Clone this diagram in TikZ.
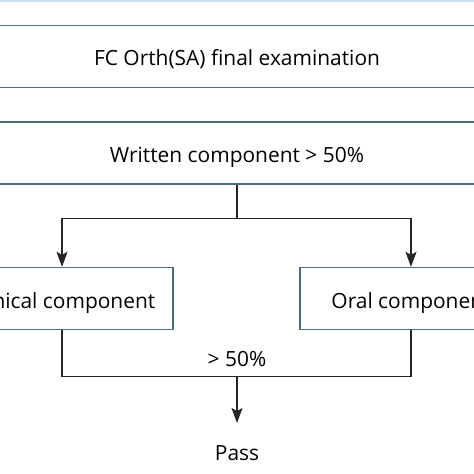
\documentclass[tikz,border=0pt]{standalone}
\usepackage{fontspec}
\setmainfont{Open Sans}
\usetikzlibrary{arrows.meta}

\definecolor{boxline}{HTML}{4F6E7A}
\definecolor{topstrip}{HTML}{C8E4F6}

\begin{document}
\begin{tikzpicture}[x=1bp, y=-1bp,
    stage/.style={draw=boxline, line width=1.3bp, fill=white, inner sep=0pt,
        minimum height=62bp, text height=19bp, text depth=0bp,
        font=\fontsize{21}{25}\selectfont},
    plain/.style={font=\fontsize{21}{25}\selectfont, anchor=base, inner sep=0pt},
    link/.style={draw=black!85, line width=1.3bp},
    >={Stealth[length=15bp, width=11bp, inset=3bp]}]
    \useasboundingbox (0,0) rectangle (474,474);
    \clip (0,0) rectangle (474,474);
    \fill[topstrip] (0,0) rectangle (474,2.5);

    % the two full-width stages
    \node[stage, minimum width=540bp] (final) at (237,56.5) {FC Orth(SA) final examination};
    \node[stage, minimum width=540bp] (written) at (237,153) {Written component > 50\%};

    % the two components side by side
    \node[stage, minimum width=222bp] (clinical) at (62,298.5) {Clinical component};
    \node[stage, minimum width=222bp] (oral) at (411,298.5) {Oral component};

    \coordinate (split) at (237,218.5);
    \coordinate (join) at (237,376.5);
    \node[plain] (pct) at (237,366) {> 50\%};
    \node[plain] (pass) at (237,460) {Pass};
    \coordinate (passin) at (237,423);

    \draw[link] (written) -- (split);
    \draw[link, ->] (split) -| (clinical.north);
    \draw[link, ->] (split) -| (oral.north);
    \draw[link] (clinical.south) |- (join) -| (oral.south);
    \draw[link, ->] (join) -- (passin);
\end{tikzpicture}
\end{document}
